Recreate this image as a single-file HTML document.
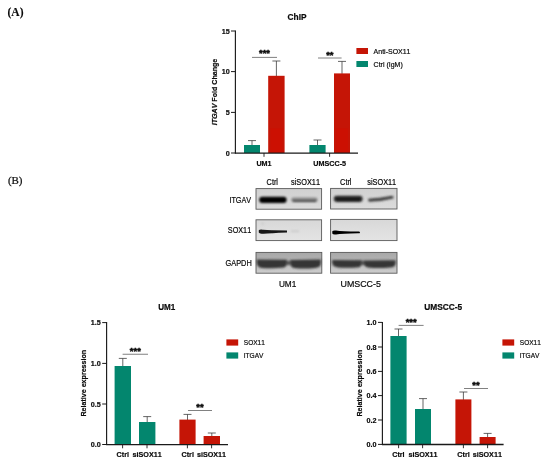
<!DOCTYPE html><html><head><meta charset="utf-8"><title>Figure</title>
<style>html,body{margin:0;padding:0;background:#fff}svg{display:block}text{font-family:"Liberation Sans",Arial,sans-serif;fill:#0a0a0a;stroke:#0a0a0a;stroke-width:0.2px;font-kerning:none}.b{font-weight:bold}.s{font-family:"Liberation Serif",serif;stroke-width:0.1px}.sb{stroke-width:0.22px}.ast{stroke-width:0.5px}</style></head><body>
<svg width="550" height="464" viewBox="0 0 550 464">
<defs><filter id="bl" x="-20%" y="-60%" width="140%" height="220%"><feGaussianBlur stdDeviation="0.8"/></filter><filter id="bl3" x="-20%" y="-60%" width="140%" height="220%"><feGaussianBlur stdDeviation="0.9"/></filter><filter id="bl2" x="-20%" y="-60%" width="140%" height="220%"><feGaussianBlur stdDeviation="0.6"/></filter>
<linearGradient id="gg" x1="0" y1="0" x2="0" y2="1"><stop offset="0" stop-color="#a8a8a8"/><stop offset="0.4" stop-color="#b2b2b2"/><stop offset="0.75" stop-color="#c6c6c6"/><stop offset="1" stop-color="#cccccc"/></linearGradient>
<linearGradient id="g1" x1="0" y1="0" x2="0" y2="1"><stop offset="0" stop-color="#d0d0d0"/><stop offset="1" stop-color="#dcdcdc"/></linearGradient>
<linearGradient id="g2" x1="0" y1="0" x2="0" y2="1"><stop offset="0" stop-color="#d8d8d8"/><stop offset="1" stop-color="#e4e4e4"/></linearGradient>
</defs>
<rect width="550" height="464" fill="#fff"/>
<text class="s b" transform="translate(7.5,15.5) scale(0.97,1)" font-size="11.9" text-anchor="start">(A)</text>
<text class="s sb" transform="translate(7.9,184.4) scale(0.96,1)" font-size="11.4" text-anchor="start">(B)</text>
<text class="b" transform="translate(297,19.5) scale(0.93,1)" font-size="9.0" text-anchor="middle">ChIP</text>
<line x1="252.0" y1="140.6" x2="252.0" y2="145.5" stroke="#3a3a3a" stroke-width="0.78"/>
<line x1="248.0" y1="140.6" x2="256.0" y2="140.6" stroke="#3a3a3a" stroke-width="0.78"/>
<rect x="244" y="145" width="16" height="8.0" fill="#03866e"/>
<line x1="276.4" y1="61" x2="276.4" y2="76.3" stroke="#3a3a3a" stroke-width="0.78"/>
<line x1="272.4" y1="61" x2="280.4" y2="61" stroke="#3a3a3a" stroke-width="0.78"/>
<rect x="268.2" y="75.8" width="16.4" height="77.2" fill="#c51506"/>
<line x1="317.5" y1="140" x2="317.5" y2="145.5" stroke="#3a3a3a" stroke-width="0.78"/>
<line x1="313.5" y1="140" x2="321.5" y2="140" stroke="#3a3a3a" stroke-width="0.78"/>
<rect x="309.4" y="145" width="16.2" height="8.0" fill="#03866e"/>
<line x1="342.0" y1="61.4" x2="342.0" y2="73.9" stroke="#3a3a3a" stroke-width="0.78"/>
<line x1="338.0" y1="61.4" x2="346.0" y2="61.4" stroke="#3a3a3a" stroke-width="0.78"/>
<rect x="334" y="73.4" width="16" height="79.6" fill="#c51506"/>
<rect x="270.6" y="128.4" width="11.8" height="24.6" fill="#d10d00" opacity="0.6"/>
<rect x="336.2" y="128.4" width="11.8" height="24.6" fill="#d10d00" opacity="0.6"/>
<line x1="235.4" y1="30.5" x2="235.4" y2="153.55" stroke="#1a1a1a" stroke-width="1.15"/>
<line x1="234.9" y1="153.1" x2="358" y2="153.1" stroke="#1a1a1a" stroke-width="1.3"/>
<line x1="231.0" y1="31" x2="235.4" y2="31" stroke="#1a1a1a" stroke-width="1"/>
<text class="b" transform="translate(229.8,33.85) scale(0.9,1)" font-size="8.0" text-anchor="end">15</text>
<line x1="231.0" y1="71.6" x2="235.4" y2="71.6" stroke="#1a1a1a" stroke-width="1"/>
<text class="b" transform="translate(229.8,74.45) scale(0.9,1)" font-size="8.0" text-anchor="end">10</text>
<line x1="231.0" y1="112.4" x2="235.4" y2="112.4" stroke="#1a1a1a" stroke-width="1"/>
<text class="b" transform="translate(229.8,115.25) scale(0.9,1)" font-size="8.0" text-anchor="end">5</text>
<line x1="231.0" y1="153" x2="235.4" y2="153" stroke="#1a1a1a" stroke-width="1"/>
<text class="b" transform="translate(229.8,155.85) scale(0.9,1)" font-size="8.0" text-anchor="end">0</text>
<line x1="264" y1="153.0" x2="264" y2="156.8" stroke="#1a1a1a" stroke-width="0.9"/>
<line x1="329.6" y1="153.0" x2="329.6" y2="156.8" stroke="#1a1a1a" stroke-width="0.9"/>
<text class="b" transform="translate(264,166.4) scale(0.9,1)" font-size="8.0" text-anchor="middle">UM1</text>
<text class="b" transform="translate(329.7,166.4) scale(0.9,1)" font-size="8.0" text-anchor="middle">UMSCC-5</text>
<text class="b" transform="translate(217.3,92) rotate(-90) scale(0.9,1)" font-size="7.9" text-anchor="middle"><tspan font-style="italic">ITGAV</tspan> Fold Change</text>
<line x1="252" y1="57.4" x2="277" y2="57.4" stroke="#333" stroke-width="0.62"/>
<text class="b ast" transform="translate(264.5,56.4)" font-size="9.4" text-anchor="middle">***</text>
<line x1="318" y1="58" x2="341.6" y2="58" stroke="#333" stroke-width="0.62"/>
<text class="b ast" transform="translate(329.8,57.55)" font-size="9.4" text-anchor="middle">**</text>
<rect x="356.4" y="48" width="11.6" height="6" fill="#c51506"/>
<rect x="356.4" y="61" width="11.6" height="6" fill="#03866e"/>
<text transform="translate(373.6,53.9) scale(0.92,1)" font-size="7.6" text-anchor="start">Anti-SOX11</text>
<text transform="translate(373.6,66.8) scale(0.92,1)" font-size="7.6" text-anchor="start">Ctrl (IgM)</text>
<text transform="translate(272.3,184.5) scale(0.875,1)" font-size="8.4" text-anchor="middle">Ctrl</text>
<text transform="translate(305.5,184.5) scale(0.875,1)" font-size="8.4" text-anchor="middle">siSOX11</text>
<text transform="translate(345.8,184.5) scale(0.875,1)" font-size="8.4" text-anchor="middle">Ctrl</text>
<text transform="translate(381.7,184.5) scale(0.875,1)" font-size="8.4" text-anchor="middle">siSOX11</text>
<text transform="translate(251.2,202.5) scale(0.855,1)" font-size="8.5" text-anchor="end">ITGAV</text>
<text transform="translate(251.2,232.6) scale(0.855,1)" font-size="8.5" text-anchor="end">SOX11</text>
<text transform="translate(251.8,265.6) scale(0.87,1)" font-size="8.5" text-anchor="end">GAPDH</text>
<text transform="translate(287.6,286.5) scale(0.92,1)" font-size="9.0" text-anchor="middle">UM1</text>
<text transform="translate(360.7,286.7) scale(0.965,1)" font-size="9.2" text-anchor="middle">UMSCC-5</text>
<rect x="256" y="188.6" width="65.6" height="20.6" fill="url(#g1)" stroke="#5a5a5a" stroke-width="0.9"/>
<g filter="url(#bl)"><rect x="259.2" y="196.8" width="27.4" height="6.2" rx="3" fill="#000"/><rect x="260.5" y="197.6" width="25" height="4.6" rx="2.2" fill="#000"/><rect x="291.2" y="197.6" width="26.4" height="4.4" rx="2.2" fill="#8a8a8a"/><rect x="292.5" y="200" width="24" height="2" rx="1" fill="#3c3c3c"/></g>
<rect x="256" y="219.8" width="65.6" height="20.8" fill="url(#g2)" stroke="#5a5a5a" stroke-width="0.9"/>
<g filter="url(#bl2)"><path d="M258.8 230.2 Q259.6 229.3 263 229.7 Q270 230.3 287 230.4 L287 232.6 Q270 233.3 263.5 233.7 Q259.4 233.7 258.8 232.4Z" fill="#161616"/></g>
<g filter="url(#bl)"><rect x="291" y="230.6" width="8" height="1.4" fill="#c4c4c4"/><circle cx="262.6" cy="223.8" r="0.7" fill="#aaa"/></g>
<rect x="256" y="252.4" width="65.8" height="20.8" fill="url(#gg)" stroke="#5a5a5a" stroke-width="0.9"/>
<g filter="url(#bl3)"><path d="M256.8 259.6 L287 259.8 Q287.8 266.4 284 267.6 Q272 268.9 262 268 Q257 267.2 256.8 263Z" fill="#343434"/><path d="M290 260 L320.8 259.6 L320.8 264 Q320.2 267.4 315 268 Q304 269 294 268 Q289.8 267 290 260Z" fill="#343434"/><rect x="286.5" y="261" width="4.5" height="4" fill="#555"/></g>
<rect x="330.6" y="188.4" width="66.4" height="20.6" fill="url(#g1)" stroke="#5a5a5a" stroke-width="0.9"/>
<g filter="url(#bl)"><rect x="333.8" y="195.8" width="28.8" height="6.2" rx="3" fill="#262626"/><rect x="336" y="197.8" width="24" height="3.4" rx="1.7" fill="#1a1a1a"/><path d="M368.5 199.2 L380 198.2 L392.5 196.2 L393.2 198 L380 200.6 L369 201.2Z" fill="#3a3a3a" stroke="#3a3a3a" stroke-width="0.9" stroke-linejoin="round"/></g>
<rect x="330.6" y="219.4" width="66.4" height="21.2" fill="url(#g2)" stroke="#5a5a5a" stroke-width="0.9"/>
<g filter="url(#bl2)"><path d="M332.3 231.2 Q333 230.2 336 230.5 Q342 231.4 358 231.5 Q360 231.2 360 232.4 Q360 233.6 358 233.3 Q342 233.8 336 234.4 Q332.8 234.7 332.3 233.4Z" fill="#000"/></g>
<rect x="330.6" y="252.4" width="66.4" height="20.8" fill="url(#gg)" stroke="#5a5a5a" stroke-width="0.9"/>
<g filter="url(#bl3)"><path d="M332.2 260 L362.2 260.2 Q362.8 265.8 359 267.2 Q348 268.3 338 267.4 Q332.4 266.6 332.2 263Z" fill="#363636"/><path d="M363.2 260.6 L395.6 260.2 L395.6 264 Q395.2 267 390 267.6 Q378 268.6 368 267.6 Q363 266.6 363.2 260.6Z" fill="#363636"/><rect x="361" y="261.4" width="3.5" height="3.6" fill="#505050"/></g>
<text class="b" transform="translate(166.8,310.2) scale(0.92,1)" font-size="8.8" text-anchor="middle">UM1</text>
<line x1="122.8" y1="358.4" x2="122.8" y2="366.5" stroke="#3a3a3a" stroke-width="0.78"/>
<line x1="118.8" y1="358.4" x2="126.8" y2="358.4" stroke="#3a3a3a" stroke-width="0.78"/>
<rect x="114.6" y="366" width="16.4" height="78.5" fill="#03866e"/>
<line x1="147.2" y1="416.6" x2="147.2" y2="422.5" stroke="#3a3a3a" stroke-width="0.78"/>
<line x1="143.2" y1="416.6" x2="151.2" y2="416.6" stroke="#3a3a3a" stroke-width="0.78"/>
<rect x="139" y="422" width="16.4" height="22.5" fill="#03866e"/>
<line x1="187.5" y1="414.4" x2="187.5" y2="420.1" stroke="#3a3a3a" stroke-width="0.78"/>
<line x1="183.5" y1="414.4" x2="191.5" y2="414.4" stroke="#3a3a3a" stroke-width="0.78"/>
<rect x="179.4" y="419.6" width="16.2" height="24.9" fill="#c51506"/>
<line x1="211.8" y1="433" x2="211.8" y2="436.5" stroke="#3a3a3a" stroke-width="0.78"/>
<line x1="207.8" y1="433" x2="215.8" y2="433" stroke="#3a3a3a" stroke-width="0.78"/>
<rect x="203.6" y="436" width="16.4" height="8.5" fill="#c51506"/>
<line x1="106.6" y1="322.1" x2="106.6" y2="445.05" stroke="#1a1a1a" stroke-width="1.15"/>
<line x1="106.1" y1="444.6" x2="228" y2="444.6" stroke="#1a1a1a" stroke-width="1.3"/>
<line x1="102.2" y1="322.6" x2="106.6" y2="322.6" stroke="#1a1a1a" stroke-width="1"/>
<text class="b" transform="translate(100.8,325.45) scale(0.9,1)" font-size="8.0" text-anchor="end">1.5</text>
<line x1="102.2" y1="363.4" x2="106.6" y2="363.4" stroke="#1a1a1a" stroke-width="1"/>
<text class="b" transform="translate(100.8,366.25) scale(0.9,1)" font-size="8.0" text-anchor="end">1.0</text>
<line x1="102.2" y1="404" x2="106.6" y2="404" stroke="#1a1a1a" stroke-width="1"/>
<text class="b" transform="translate(100.8,406.85) scale(0.9,1)" font-size="8.0" text-anchor="end">0.5</text>
<line x1="102.2" y1="444.5" x2="106.6" y2="444.5" stroke="#1a1a1a" stroke-width="1"/>
<text class="b" transform="translate(100.8,447.35) scale(0.9,1)" font-size="8.0" text-anchor="end">0.0</text>
<line x1="122.6" y1="444.5" x2="122.6" y2="448.3" stroke="#1a1a1a" stroke-width="0.9"/>
<line x1="147" y1="444.5" x2="147" y2="448.3" stroke="#1a1a1a" stroke-width="0.9"/>
<line x1="187.4" y1="444.5" x2="187.4" y2="448.3" stroke="#1a1a1a" stroke-width="0.9"/>
<line x1="211.6" y1="444.5" x2="211.6" y2="448.3" stroke="#1a1a1a" stroke-width="0.9"/>
<text class="b" transform="translate(122.8,457.2) scale(0.9,1)" font-size="8.0" text-anchor="middle">Ctrl</text>
<text class="b" transform="translate(147.1,457.2) scale(0.9,1)" font-size="8.0" text-anchor="middle">siSOX11</text>
<text class="b" transform="translate(187.7,457.2) scale(0.9,1)" font-size="8.0" text-anchor="middle">Ctrl</text>
<text class="b" transform="translate(211.5,457.2) scale(0.9,1)" font-size="8.0" text-anchor="middle">siSOX11</text>
<line x1="122.6" y1="354.25" x2="148" y2="354.25" stroke="#333" stroke-width="0.62"/>
<text class="b ast" transform="translate(135.3,353.6)" font-size="9.4" text-anchor="middle">***</text>
<line x1="188" y1="410.5" x2="212" y2="410.5" stroke="#333" stroke-width="0.62"/>
<text class="b ast" transform="translate(200.0,409.75)" font-size="9.4" text-anchor="middle">**</text>
<text class="b" transform="translate(86.2,383.2) rotate(-90) scale(0.9,1)" font-size="7.9" text-anchor="middle">Relative expression</text>
<rect x="226.4" y="339.4" width="11.8" height="6.2" fill="#c51506"/>
<rect x="226.4" y="352.4" width="11.8" height="6.2" fill="#03866e"/>
<text transform="translate(243.8,345.3) scale(0.91,1)" font-size="7.2" text-anchor="start">SOX11</text>
<text transform="translate(243.8,358.3) scale(0.91,1)" font-size="7.2" text-anchor="start">ITGAV</text>
<text class="b" transform="translate(443.2,310.2) scale(0.95,1)" font-size="8.8" text-anchor="middle">UMSCC-5</text>
<line x1="398.5" y1="329.0" x2="398.5" y2="336.5" stroke="#3a3a3a" stroke-width="0.78"/>
<line x1="394.5" y1="329.0" x2="402.5" y2="329.0" stroke="#3a3a3a" stroke-width="0.78"/>
<rect x="390.4" y="336" width="16.2" height="108.4" fill="#03866e"/>
<line x1="423.0" y1="398.6" x2="423.0" y2="409.5" stroke="#3a3a3a" stroke-width="0.78"/>
<line x1="419.0" y1="398.6" x2="427.0" y2="398.6" stroke="#3a3a3a" stroke-width="0.78"/>
<rect x="415" y="409" width="16" height="35.4" fill="#03866e"/>
<line x1="463.4" y1="392" x2="463.4" y2="399.9" stroke="#3a3a3a" stroke-width="0.78"/>
<line x1="459.4" y1="392" x2="467.4" y2="392" stroke="#3a3a3a" stroke-width="0.78"/>
<rect x="455.4" y="399.4" width="16.0" height="45.0" fill="#c51506"/>
<line x1="487.6" y1="433.4" x2="487.6" y2="437.5" stroke="#3a3a3a" stroke-width="0.78"/>
<line x1="483.6" y1="433.4" x2="491.6" y2="433.4" stroke="#3a3a3a" stroke-width="0.78"/>
<rect x="479.6" y="437" width="16.0" height="7.4" fill="#c51506"/>
<line x1="382.4" y1="321.9" x2="382.4" y2="444.95" stroke="#1a1a1a" stroke-width="1.15"/>
<line x1="381.9" y1="444.5" x2="503.6" y2="444.5" stroke="#1a1a1a" stroke-width="1.3"/>
<line x1="378.0" y1="322.4" x2="382.4" y2="322.4" stroke="#1a1a1a" stroke-width="1"/>
<text class="b" transform="translate(376.6,325.25) scale(0.9,1)" font-size="8.0" text-anchor="end">1.0</text>
<line x1="378.0" y1="347" x2="382.4" y2="347" stroke="#1a1a1a" stroke-width="1"/>
<text class="b" transform="translate(376.6,349.85) scale(0.9,1)" font-size="8.0" text-anchor="end">0.8</text>
<line x1="378.0" y1="371.4" x2="382.4" y2="371.4" stroke="#1a1a1a" stroke-width="1"/>
<text class="b" transform="translate(376.6,374.25) scale(0.9,1)" font-size="8.0" text-anchor="end">0.6</text>
<line x1="378.0" y1="395.6" x2="382.4" y2="395.6" stroke="#1a1a1a" stroke-width="1"/>
<text class="b" transform="translate(376.6,398.45) scale(0.9,1)" font-size="8.0" text-anchor="end">0.4</text>
<line x1="378.0" y1="420" x2="382.4" y2="420" stroke="#1a1a1a" stroke-width="1"/>
<text class="b" transform="translate(376.6,422.85) scale(0.9,1)" font-size="8.0" text-anchor="end">0.2</text>
<line x1="378.0" y1="444.4" x2="382.4" y2="444.4" stroke="#1a1a1a" stroke-width="1"/>
<text class="b" transform="translate(376.6,447.25) scale(0.9,1)" font-size="8.0" text-anchor="end">0.0</text>
<line x1="398.6" y1="444.4" x2="398.6" y2="448.2" stroke="#1a1a1a" stroke-width="0.9"/>
<line x1="422.6" y1="444.4" x2="422.6" y2="448.2" stroke="#1a1a1a" stroke-width="0.9"/>
<line x1="463.4" y1="444.4" x2="463.4" y2="448.2" stroke="#1a1a1a" stroke-width="0.9"/>
<line x1="487.6" y1="444.4" x2="487.6" y2="448.2" stroke="#1a1a1a" stroke-width="0.9"/>
<text class="b" transform="translate(398.4,457.2) scale(0.9,1)" font-size="8.0" text-anchor="middle">Ctrl</text>
<text class="b" transform="translate(423,457.2) scale(0.9,1)" font-size="8.0" text-anchor="middle">siSOX11</text>
<text class="b" transform="translate(463.5,457.2) scale(0.9,1)" font-size="8.0" text-anchor="middle">Ctrl</text>
<text class="b" transform="translate(487.3,457.2) scale(0.9,1)" font-size="8.0" text-anchor="middle">siSOX11</text>
<line x1="398.6" y1="325.4" x2="423.6" y2="325.4" stroke="#333" stroke-width="0.62"/>
<text class="b ast" transform="translate(411.1,325.35)" font-size="9.4" text-anchor="middle">***</text>
<line x1="464" y1="388.5" x2="488" y2="388.5" stroke="#333" stroke-width="0.62"/>
<text class="b ast" transform="translate(476.0,387.75)" font-size="9.4" text-anchor="middle">**</text>
<text class="b" transform="translate(362,383.2) rotate(-90) scale(0.9,1)" font-size="7.9" text-anchor="middle">Relative expression</text>
<rect x="502.4" y="339.4" width="11.8" height="6.2" fill="#c51506"/>
<rect x="502.4" y="352.4" width="11.8" height="6.2" fill="#03866e"/>
<text transform="translate(519.8,345.3) scale(0.91,1)" font-size="7.2" text-anchor="start">SOX11</text>
<text transform="translate(519.8,358.3) scale(0.91,1)" font-size="7.2" text-anchor="start">ITGAV</text>
</svg></body></html>
